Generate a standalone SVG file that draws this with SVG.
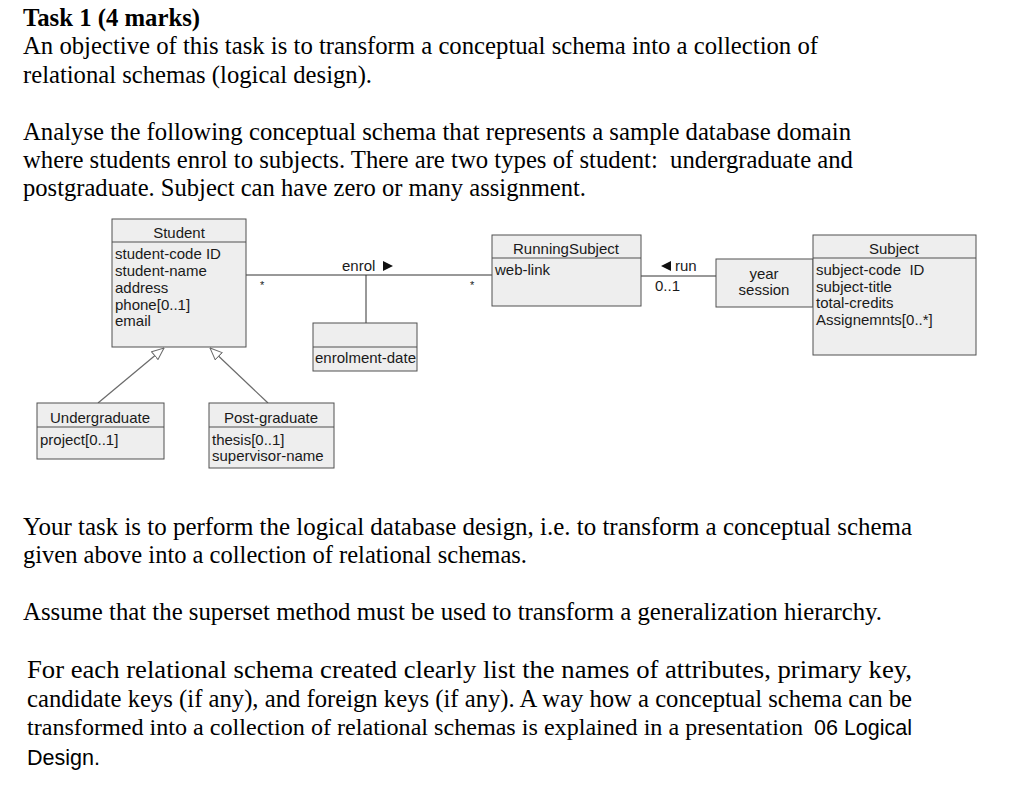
<svg xmlns="http://www.w3.org/2000/svg" width="1024" height="798" viewBox="0 0 1024 798">
<defs>
<style>
.p{font-family:"Liberation Serif","Times New Roman",serif;font-size:25px;fill:#000}
.q{font-size:26px}
.b{font-weight:bold}
.c{font-family:"Liberation Sans",Arial,sans-serif;font-size:22px;fill:#000}
.box{fill:#eeeeee;stroke:#505050;stroke-width:1}
.div{stroke:#505050;stroke-width:1}
.t{font-family:"Liberation Sans",Arial,sans-serif;font-size:15px;fill:#1a1a1a;white-space:pre}
.m{text-anchor:middle}
.ln{stroke:#333;stroke-width:1;fill:none}
.gen{stroke:#6a6a6a;stroke-width:1.2;fill:none;marker-end:url(#tri)}
</style>
<marker id="tri" viewBox="0 0 13 11" refX="12.5" refY="5.5" markerWidth="13" markerHeight="11" markerUnits="userSpaceOnUse" orient="auto">
<path d="M0.5,0.5 L12.5,5.5 L0.5,10.5 Z" fill="#ffffff" stroke="#6a6a6a" stroke-width="1"/>
</marker>
</defs>
<rect width="1024" height="798" fill="#ffffff"/>

<g id="text-top">
<text class="p b" x="23" y="26" textLength="177" lengthAdjust="spacingAndGlyphs">Task 1 (4 marks)</text>
<text class="p" x="23" y="54" textLength="795" lengthAdjust="spacingAndGlyphs">An objective of this task is to transform a conceptual schema into a collection of</text>
<text class="p" x="23" y="83" textLength="349" lengthAdjust="spacingAndGlyphs">relational schemas (logical design).</text>
<text class="p q" x="23" y="140" textLength="828" lengthAdjust="spacingAndGlyphs">Analyse the following conceptual schema that represents a sample database domain</text>
<text class="p q" x="23" y="168" textLength="830" lengthAdjust="spacingAndGlyphs" xml:space="preserve">where students enrol to subjects. There are two types of student:  undergraduate and</text>
<text class="p q" x="23" y="196" textLength="563" lengthAdjust="spacingAndGlyphs">postgraduate. Subject can have zero or many assignment.</text>
</g>

<g id="connectors">
<line class="ln" x1="246" y1="275" x2="492" y2="275"/>
<line class="ln" x1="366" y1="275" x2="366" y2="323"/>
<line class="ln" x1="641" y1="276" x2="716" y2="276"/>
<line class="gen" x1="98" y1="403" x2="164" y2="348"/>
<line class="gen" x1="268" y1="403" x2="210" y2="348"/>
<text class="t" x="342" y="271">enrol</text>
<polygon points="383,261 393,266 383,271" fill="#111"/>
<text class="t" x="260" y="289" style="font-size:11px">*</text>
<text class="t" x="470" y="289" style="font-size:11px">*</text>
<polygon points="671,261 661,266 671,271" fill="#111"/>
<text class="t" x="675" y="271">run</text>
<text class="t" x="655" y="291">0..1</text>
</g>

<g id="student">
<rect class="box" x="112" y="219" width="134" height="128"/>
<line class="div" x1="112" y1="242" x2="246" y2="242"/>
<text class="t m" x="179" y="238">Student</text>
<text class="t" x="115" y="259">student-code ID</text>
<text class="t" x="115" y="276">student-name</text>
<text class="t" x="115" y="293">address</text>
<text class="t" x="115" y="310">phone[0..1]</text>
<text class="t" x="115" y="326">email</text>
</g>

<g id="enrolment">
<rect class="box" x="313" y="323" width="104" height="48"/>
<line class="div" x1="313" y1="347" x2="417" y2="347"/>
<text class="t" x="315" y="363" textLength="101" lengthAdjust="spacingAndGlyphs">enrolment-date</text>
</g>

<g id="runningsubject">
<rect class="box" x="492" y="235" width="149" height="71"/>
<line class="div" x1="492" y1="258" x2="641" y2="258"/>
<text class="t m" x="566" y="254">RunningSubject</text>
<text class="t" x="495" y="275">web-link</text>
</g>

<g id="yearsession">
<rect class="box" x="716" y="259" width="97" height="48"/>
<text class="t m" x="764" y="279">year</text>
<text class="t m" x="764" y="295">session</text>
</g>

<g id="subject">
<rect class="box" x="813" y="235" width="163" height="120"/>
<line class="div" x1="813" y1="258" x2="976" y2="258"/>
<text class="t m" x="894" y="254">Subject</text>
<text class="t" x="816" y="275" xml:space="preserve">subject-code  ID</text>
<text class="t" x="816" y="292">subject-title</text>
<text class="t" x="816" y="308">total-credits</text>
<text class="t" x="816" y="325">Assignemnts[0..*]</text>
</g>

<g id="undergraduate">
<rect class="box" x="37" y="403" width="127" height="56"/>
<line class="div" x1="37" y1="427" x2="164" y2="427"/>
<text class="t m" x="100" y="423">Undergraduate</text>
<text class="t" x="40" y="445">project[0..1]</text>
</g>

<g id="postgraduate">
<rect class="box" x="209" y="403" width="125" height="65"/>
<line class="div" x1="209" y1="427" x2="334" y2="427"/>
<text class="t m" x="271" y="423">Post-graduate</text>
<text class="t" x="212" y="445">thesis[0..1]</text>
<text class="t" x="212" y="461">supervisor-name</text>
</g>

<g id="text-bottom">
<text class="p q" x="23" y="535" textLength="889" lengthAdjust="spacingAndGlyphs">Your task is to perform the logical database design, i.e. to transform a conceptual schema</text>
<text class="p q" x="23" y="563" textLength="504" lengthAdjust="spacingAndGlyphs">given above into a collection of relational schemas.</text>
<text class="p q" x="23" y="620" textLength="859" lengthAdjust="spacingAndGlyphs">Assume that the superset method must be used to transform a generalization hierarchy.</text>
<text class="p" x="27" y="678" textLength="885" lengthAdjust="spacingAndGlyphs">For each relational schema created clearly list the names of attributes, primary key,</text>
<text class="p" x="27" y="707" textLength="885" lengthAdjust="spacingAndGlyphs">candidate keys (if any), and foreign keys (if any). A way how a conceptual schema can be</text>
<text class="p" x="27" y="735" style="font-size:24px" textLength="776" lengthAdjust="spacingAndGlyphs">transformed into a collection of relational schemas is explained in a presentation</text>
<text class="c" x="814" y="735" textLength="98" lengthAdjust="spacingAndGlyphs">06 Logical</text>
<text class="c" x="27" y="765" textLength="73" lengthAdjust="spacingAndGlyphs">Design.</text>
</g>
</svg>
